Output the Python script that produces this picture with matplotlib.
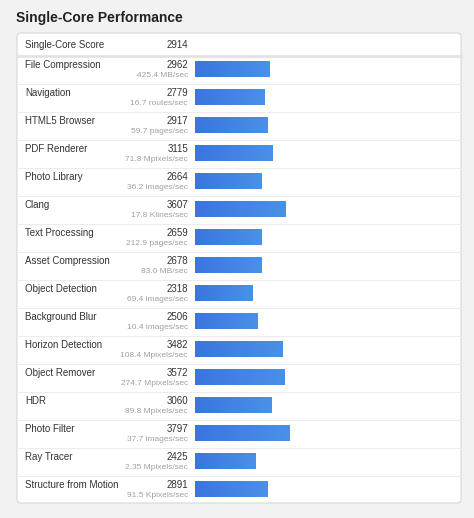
import numpy as np
import matplotlib
matplotlib.use("Agg")
import matplotlib.pyplot as plt
from matplotlib.patches import FancyBboxPatch

title = "Single-Core Performance"
overall_label = "Single-Core Score"
overall_score = 2914
names = ["File Compression", "Navigation", "HTML5 Browser", "PDF Renderer", "Photo Library",
         "Clang", "Text Processing", "Asset Compression", "Object Detection", "Background Blur",
         "Horizon Detection", "Object Remover", "HDR", "Photo Filter", "Ray Tracer",
         "Structure from Motion"]
scores = [2962, 2779, 2917, 3115, 2664, 3607, 2659, 2678, 2318, 2506, 3482, 3572, 3060, 3797, 2425, 2891]
rates = ["425.4 MB/sec", "16.7 routes/sec", "59.7 pages/sec", "71.8 Mpixels/sec", "36.2 images/sec",
         "17.8 Klines/sec", "212.9 pages/sec", "83.0 MB/sec", "69.4 images/sec", "10.4 images/sec",
         "108.4 Mpixels/sec", "274.7 Mpixels/sec", "89.8 Mpixels/sec", "37.7 images/sec",
         "2.35 Mpixels/sec", "91.5 Kpixels/sec"]

W, H = 474, 518
fig = plt.figure(figsize=(W/100, H/100), dpi=100, facecolor="#f2f2f2")
ov = fig.add_axes([0, 0, 1, 1])
ov.set_xlim(0, W); ov.set_ylim(H, 0); ov.axis("off")

ov.text(16, 18, title, fontsize=10, fontweight="bold", color="#222", va="center", family="Liberation Sans")
card = FancyBboxPatch((17, 33), 444, 470, boxstyle="round,pad=0,rounding_size=4",
                      fc="white", ec="#d8d8d8", lw=0.8)
ov.add_patch(card)

top, rowh = 56, 28
ov.text(25, 45, overall_label, fontsize=7, color="#333", va="center", family="Liberation Sans")
ov.text(188, 45, str(overall_score), fontsize=7, color="#333", va="center", ha="right", family="Liberation Sans")
ov.plot([17, 461], [top, top], color="#e2e2e2", lw=2)
for i, (n, s, r) in enumerate(zip(names, scores, rates)):
    y0 = top + i*rowh
    if i > 0:
        ov.plot([17, 461], [y0, y0], color="#ececec", lw=0.7)
    ov.text(25, y0 + 9.5, n, fontsize=7, color="#333", va="center", family="Liberation Sans")
    ov.text(188, y0 + 9.5, str(s), fontsize=7, color="#333", va="center", ha="right", family="Liberation Sans")
    ov.text(188, y0 + 19.5, r, fontsize=6, color="#a0a0a0", va="center", ha="right", family="Liberation Sans")

# bar axes
bx0, bw = 195, 260
scale = 0.025  # px per point
bax = fig.add_axes([bx0/W, 1 - (top + rowh*len(names))/H, bw/W, rowh*len(names)/H])
bax.set_xlim(0, bw/scale); bax.set_ylim(len(names), 0); bax.axis("off")
ypos = np.arange(len(names)) + 0.46
bars = bax.barh(ypos, scores, height=0.58, color="#3f82e4")
grad = np.linspace(0, 1, 64).reshape(1, -1)
cmap = matplotlib.colors.LinearSegmentedColormap.from_list("g", ["#3a76de", "#4a90e8"])
for b in bars:
    x, y, w, h = b.get_x(), b.get_y(), b.get_width(), b.get_height()
    im = bax.imshow(grad, extent=[x, x + w, y + h, y], aspect="auto", cmap=cmap, zorder=3)
    im.set_clip_path(b)
bax.set_xlim(0, bw/scale); bax.set_ylim(len(names), 0)

fig.savefig("out.png", dpi=100, facecolor=fig.get_facecolor())
